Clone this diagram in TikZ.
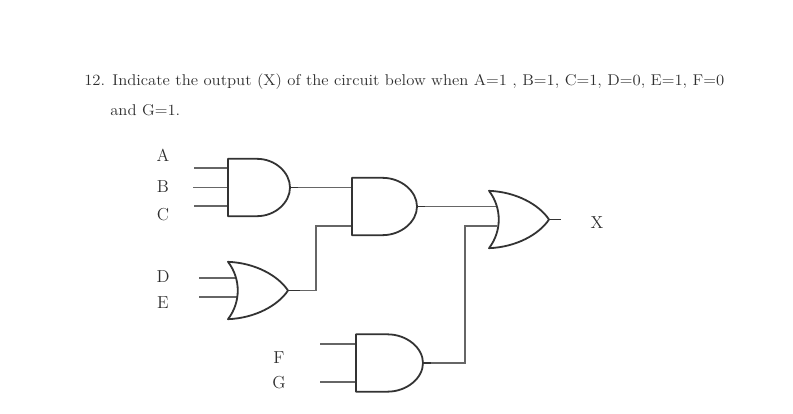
\documentclass[tikz,border=0pt]{standalone}
\usepackage{graphicx}
\usetikzlibrary{calc}
\definecolor{ink}{HTML}{333333}
\definecolor{wirec}{HTML}{666666}
\definecolor{txt}{HTML}{2E2E2E}
\tikzset{
  gatebox/.style={rectangle,draw=none,inner sep=0pt,outer sep=0pt,minimum width=#1*0.75pt,minimum height=43pt},
  gateline/.style={draw=ink,line width=1.35pt,line join=round,fill=white},
  wire/.style={draw=wirec,line width=0.85pt},
  stub/.style={draw=ink,line width=1.1pt},
  sig/.style={inner sep=0pt,text=txt,font=\fontsize{13}{15}\selectfont},
  para/.style={inner sep=0pt,anchor=base west,text=txt,font=\fontsize{11.7}{14}\selectfont}
}
% AND outline drawn on the named box #1 (width #2, half height 28.5 px)
\newcommand{\gateand}[2]{%
  \draw[gateline] (#1.north west) -- ++(#2*0.47,0)
    .. controls +(#2*0.29,0) and ($(#1.east)+(0,-15)$) .. (#1.east)
    .. controls ($(#1.east)+(0,15)$) and ($(#1.south west)+(#2*0.76,0)$) .. ($(#1.south west)+(#2*0.47,0)$)
    -- (#1.south west) -- cycle;}
\newcommand{\gateor}[1]{%
  \draw[gateline] (#1.north west)
    .. controls +(27,1) and ($(#1.east)+(-10,-15)$) .. (#1.east)
    .. controls ($(#1.east)+(-10,15)$) and ($(#1.south west)+(27,-1)$) .. (#1.south west)
    .. controls +(13,-17) and ($(#1.north west)+(13,17)$) .. (#1.north west) -- cycle;}
\begin{document}
\begin{tikzpicture}[x=0.75pt,y=-0.75pt]
\useasboundingbox (0,0) rectangle (793,414);
\fill[white] (0,0) rectangle (793,414);
\node[para] (q1) at (84,85) {\scalebox{1.069}[1]{12. Indicate the output (X) of the circuit below when A=1 , B=1, C=1, D=0, E=1, F=0}};
\node[para] (q2) at (110,115) {\scalebox{1.069}[1]{and G=1.}};

\node[gatebox=62] (g1) at (259,187.5) {};
\node[gatebox=65] (g2) at (384.5,206.5) {};
\node[gatebox=67] (g3) at (389.5,363) {};
\node[gatebox=60] (o1) at (258,290.5) {};
\node[gatebox=60] (o2) at (519,219.5) {};

\coordinate (a) at (194,168); \coordinate (b) at (193,187.5); \coordinate (c) at (194,206);
\coordinate (d) at (199,278); \coordinate (e) at (199,297);
\coordinate (f) at (320,344); \coordinate (h) at (320,382);
\coordinate (j1) at (316,226); \coordinate (g2in) at (352,226);
\coordinate (j2) at (465,226); \coordinate (o2in) at (497,226);
\coordinate (xout) at (561,219.5);

\draw[wire] (a) -- (a -| g1.west);
\draw[wire] (b) -- (b -| g1.west);
\draw[wire] (c) -- (c -| g1.west);
\draw[wire] (d) -- ($(d -| o1.west)+(9,0)$);
\draw[wire] (e) -- ($(e -| o1.west)+(9,0)$);
\draw[wire] (f) -- (f -| g3.west);
\draw[wire] (h) -- (h -| g3.west);

\draw[wire] (g1.east) -- (g1.east -| g2.west);
\draw[wire] (o1.east) -| (j1) -- (g2in);
\draw[wire] (g2.east) -- ($(g2.east -| o2.west)+(8,0)$);
\draw[wire] (g3.east) -| (j2) -- (o2in);

\draw[stub] (g1.east) -- +(8,0);
\draw[stub] (g2.east) -- +(8,0);
\draw[stub] (g3.east) -- +(8,0);
\draw[stub] (o1.east) -- +(12,0);
\draw[stub] (o2.east) -- (xout);

\gateand{g1}{62}
\gateand{g2}{65}
\gateand{g3}{67}
\gateor{o1}
\gateor{o2}

\node[sig] (la) at (163,155) {A};
\node[sig] (lb) at (163,187) {B};
\node[sig] (lc) at (163,215) {C};
\node[sig] (ld) at (163,277) {D};
\node[sig] (le) at (163,303) {E};
\node[sig] (lf) at (279,358) {F};
\node[sig] (lg) at (279,383) {G};
\node[sig] (lx) at (597,223) {X};
\end{tikzpicture}
\end{document}
